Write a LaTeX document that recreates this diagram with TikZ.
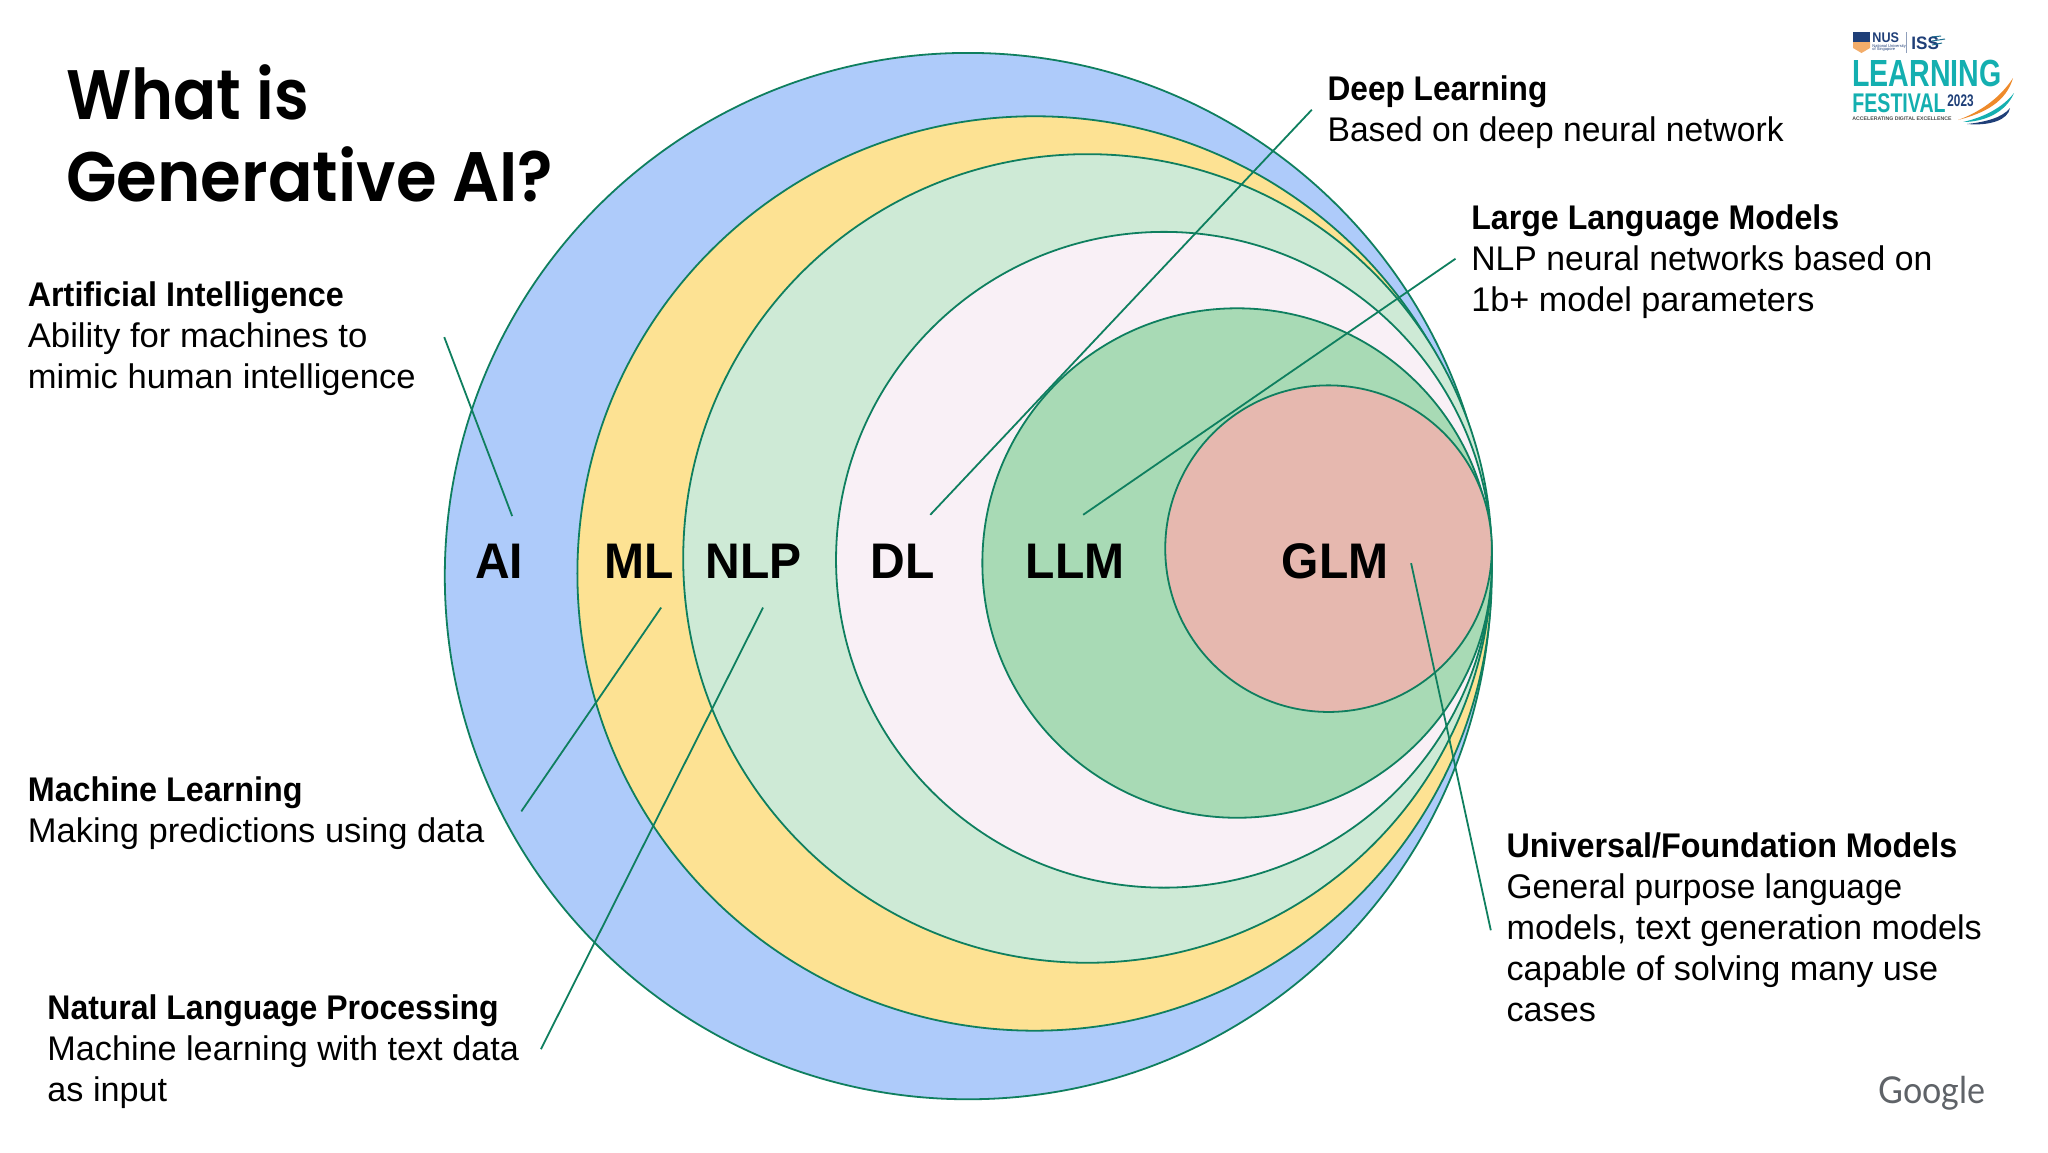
\documentclass[tikz,border=0pt]{standalone}
\usepackage{graphicx}
\usepackage{fontspec}
\setmainfont{Liberation Sans}
\newfontfamily\titlefont{Poppins SemiBold}
\newfontfamily\googlefont{Lato}
\newcommand{\hd}[2][0.945]{\scalebox{#1}[1]{\textbf{#2}}}
\newcommand{\tg}[1]{\scalebox{0.96}[1]{#1}}
\newcommand{\ls}[2]{\scalebox{#1}[1]{#2}}
\definecolor{aiblue}{HTML}{AECBFA}
\definecolor{mlyellow}{HTML}{FDE293}
\definecolor{nlpgreen}{HTML}{CEEAD6}
\definecolor{dlpink}{HTML}{F9F0F6}
\definecolor{llmgreen}{HTML}{A8DAB5}
\definecolor{glmred}{HTML}{E6B8AF}
\definecolor{rim}{HTML}{0F7F5F}
\definecolor{lfteal}{HTML}{14AFB0}
\definecolor{lfnavy}{HTML}{1F3F78}
\definecolor{lforange}{HTML}{EE8A2A}
\definecolor{ggray}{HTML}{5F6368}
\tikzset{
  x=0.5pt,y=-0.5pt,
  ring/.style={draw=rim,line width=0.9pt},
  leader/.style={draw=rim,line width=0.9pt},
  tag/.style={inner sep=0pt,anchor=base,font=\fontsize{25}{30}\selectfont\bfseries,text=black},
  note/.style={inner sep=0pt,anchor=base west,align=left,text=black,font=\fontsize{17.1}{20.45}\selectfont},
}
\begin{document}
\begin{tikzpicture}
\useasboundingbox (0,0) rectangle (2048,1152);
\fill[white] (0,0) rectangle (2048,1152);
\begin{scope}[scale=1.3063]
\draw[ring,fill=aiblue] (741,441) circle [radius=400.5];
\draw[ring,fill=mlyellow] (792,439) circle [radius=350];
\draw[ring,fill=nlpgreen] (832.5,427.5) circle [radius=309.5];
\draw[ring,fill=dlpink] (891,428.5) circle [radius=251];
\draw[ring,fill=llmgreen] (947,431) circle [radius=195];
\draw[ring,fill=glmred] (1017,420) circle [radius=125];
\coordinate (aiA) at (340,258); \coordinate (aiB) at (392,395);
\coordinate (dlA) at (1004,84); \coordinate (dlB) at (712,394);
\coordinate (llA) at (1114,198); \coordinate (llB) at (829,394);
\coordinate (mlA) at (506,465); \coordinate (mlB) at (399,621);
\coordinate (npA) at (584,465); \coordinate (npB) at (414,803);
\coordinate (glA) at (1080,431); \coordinate (glB) at (1141,712);
\draw[leader] (aiA)--(aiB);
\draw[leader] (dlA)--(dlB);
\draw[leader] (llA)--(llB);
\draw[leader] (mlA)--(mlB);
\draw[leader] (npA)--(npB);
\draw[leader] (glA)--(glB);
\node[tag] (tAI) at (382,442.5) {\tg{AI}};
\node[tag] (tML) at (489.5,442.5) {\tg{ML}};
\node[tag] (tNLP) at (577,442.5) {\tg{NLP}};
\node[tag] (tDL) at (691,442.5) {\tg{DL}};
\node[tag] (tLLM) at (823,442.5) {\tg{LLM}};
\node[tag] (tGLM) at (1022,442.5) {\tg{GLM}};
\node[inner sep=0pt,anchor=base west,align=left,font=\fontsize{35}{40.7}\titlefont] (title) at (50.5,154) {\scalebox{0.91}[1]{What is}\\\scalebox{0.94}[1]{Generative AI?}};
\node[note] (nAI) at (21,297.5) {\hd{Artificial Intelligence}\\\ls{1.015}{Ability for machines to}\\\ls{1.01}{mimic human intelligence}};
\node[note] (nML) at (21,645) {\hd{Machine Learning}\\\ls{1.009}{Making predictions using data}};
\node[note] (nNLP) at (36,843) {\hd[0.935]{Natural Language Processing}\\Machine learning with text data\\as input};
\node[note] (nDL) at (1016,108) {\hd[0.925]{Deep Learning}\\\ls{0.983}{Based on deep neural network}};
\node[note] (nLLM) at (1126,238.5) {\hd[0.94]{Large Language Models}\\\ls{0.986}{NLP neural networks based on}\\1b+ model parameters};
\node[note] (nUFM) at (1153,782) {\hd{Universal/Foundation Models}\\\ls{0.977}{General purpose language}\\models, text generation models\\capable of solving many use\\cases};
\end{scope}
% logo (reference pixels)
\fill[lfnavy] (1853,32) rectangle (1870,42);
\fill[lforange!70!white] (1853,42) -- (1870,42) -- (1870,48) -- (1861.5,53) -- (1853,48) -- cycle;
\node[inner sep=0pt,anchor=base west,text=lfnavy,font=\bfseries] (nus) at (1872,42) {\scalebox{0.9}[1]{\fontsize{7}{8}\selectfont NUS}};
\node[inner sep=0pt,anchor=base west,text=lfnavy,font=\fontsize{2}{2}\selectfont] (nusb) at (1872,47) {National University};
\node[inner sep=0pt,anchor=base west,text=lfnavy,font=\fontsize{2}{2}\selectfont] (nusc) at (1872,50) {of Singapore};
\draw[lfnavy!50,line width=0.3pt] (1906,32) -- (1906,53);
\node[inner sep=0pt,anchor=base west,text=lfnavy,font=\bfseries] (iss) at (1911,49) {\scalebox{0.95}[1]{\fontsize{9}{9}\selectfont ISS}};
\draw[lfnavy!60!lfteal,line width=0.5pt] (1932,37) -- (1941,36) (1932,41) -- (1945,39) (1932,45) -- (1942,43);
\node[inner sep=0pt,anchor=base west,text=lfteal,font=\bfseries] (learning) at (1852,86) {\scalebox{1.02}[1.35]{\fontsize{14}{14}\selectfont LEARNING}};
\node[inner sep=0pt,anchor=base west,text=lfteal,font=\bfseries] (festival) at (1852,112) {\scalebox{0.725}[1.0]{\fontsize{13.5}{14}\selectfont FESTIVAL}};
\node[inner sep=0pt,anchor=base west,text=lfnavy,font=\bfseries] (year) at (1947,106) {\scalebox{0.7}[1]{\fontsize{8.4}{9}\selectfont 2023}};
\node[inner sep=0pt,anchor=base west,text=black!70,font=\fontsize{2.6}{3}\selectfont\bfseries] (tagline) at (1852,120) {ACCELERATING DIGITAL EXCELLENCE};
\fill[lforange] (1958,120) .. controls (1980,112) and (2000,98) .. (2013,78) .. controls (2006,102) and (1985,113) .. (1958,120) -- cycle;
\fill[lfteal] (1963,122) .. controls (1985,117) and (2003,107) .. (2014,93) .. controls (2006,112) and (1985,122) .. (1963,122) -- cycle;
\fill[lfnavy] (1967,124) .. controls (1985,122) and (2002,118) .. (2010,108) .. controls (2008,120) and (1990,126) .. (1967,124) -- cycle;
\node[inner sep=0pt,anchor=base west,text=ggray,font=\fontsize{18.5}{20}\googlefont] (google) at (1878,1103) {\scalebox{0.92}[1]{Google}};
\end{tikzpicture}
\end{document}
